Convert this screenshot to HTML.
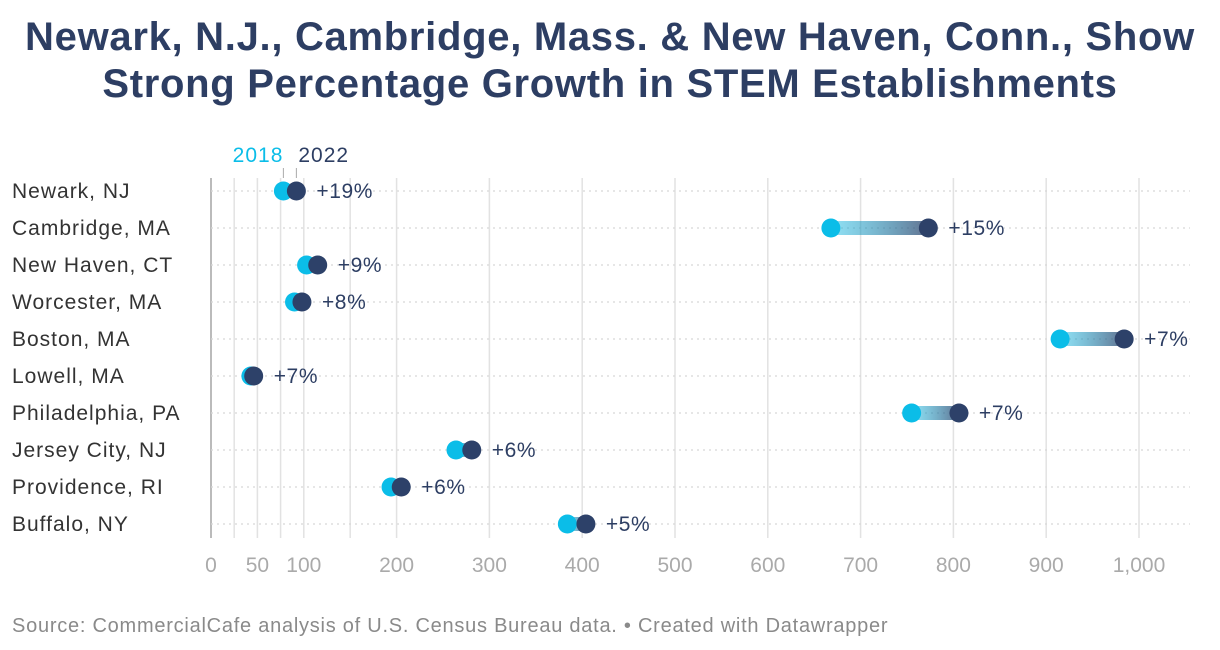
<!DOCTYPE html>
<html><head><meta charset="utf-8"><style>
body{margin:0;width:1220px;height:650px;background:#fff;font-family:"Liberation Sans",Roboto,sans-serif;overflow:hidden}
h1{margin:0;position:absolute;top:14px;left:0;width:1220px;text-align:center;font-size:40px;letter-spacing:0.7px;line-height:47px;color:#2d3e63;font-weight:bold}
.src{position:absolute;left:12px;top:615px;font-size:20px;letter-spacing:0.75px;color:#8a8a8a}
</style></head><body>
<h1>Newark, N.J., Cambridge, Mass. &amp; New Haven, Conn., Show<br>Strong Percentage Growth in STEM Establishments</h1>
<svg id="c" width="1220" height="650" style="position:absolute;left:0;top:0"></svg>
<div class="src">Source: CommercialCafe analysis of U.S. Census Bureau data. • Created with Datawrapper</div>
<script>
const cities=["Newark, NJ","Cambridge, MA","New Haven, CT","Worcester, MA","Boston, MA","Lowell, MA","Philadelphia, PA","Jersey City, NJ","Providence, RI","Buffalo, NY"];
const v2018=[78,668,103,90,915,43,755,264,194,384];
const v2022=[92,773,115,98,984,46,806,281,205,404];
const changes=["+19%","+15%","+9%","+8%","+7%","+7%","+7%","+6%","+6%","+5%"];
const gridVals=[0,25,50,75,100,150,200,300,400,500,600,700,800,900,1000];
const tickVals=[0,50,100,200,300,400,500,600,700,800,900,1000];
const tickLabels=["0","50","100","200","300","400","500","600","700","800","900","1,000"];
const svg=document.getElementById('c');const NS='http://www.w3.org/2000/svg';
const x=v=>211+v*0.928;const y=i=>191+i*37;
function mk(t,a,p){const e=document.createElementNS(NS,t);for(const k in a)e.setAttribute(k,a[k]);(p||svg).appendChild(e);return e;}
const defs=mk('defs',{});const g=mk('linearGradient',{id:'gr',x1:0,x2:1,y1:0,y2:0},defs);
mk('stop',{offset:0,'stop-color':'#0bbde8','stop-opacity':0.45},g);mk('stop',{offset:1,'stop-color':'#2d4169','stop-opacity':0.75},g);
gridVals.forEach(v=>{const l=mk('line',{x1:x(v),x2:x(v),y1:178,y2:538,stroke:v===0?'#bbb':'#e2e2e2','stroke-width':v===0?2:1.5});

});
tickVals.forEach((v,i)=>{const t=mk('text',{x:x(v),y:572,'text-anchor':'middle','font-size':21,fill:'#aaa'});t.textContent=tickLabels[i];

});
cities.forEach((c,i)=>{
const r=mk('line',{x1:211,x2:1190,y1:y(i),y2:y(i),stroke:'#d8d8d8','stroke-dasharray':'2,4','stroke-width':1.3});


const lab=mk('text',{x:12,y:y(i)+7,'font-size':21,'letter-spacing':1,fill:'#333'});lab.textContent=c;


const a=x(v2018[i]),b=x(v2022[i]);
if(b-a>4){const bar=mk('rect',{x:a,y:y(i)-7,width:b-a,height:14,fill:'url(#gr)'});

}
const d1=mk('circle',{cx:a,cy:y(i),r:9.5,fill:'#0bbde8'});


const d2=mk('circle',{cx:b,cy:y(i),r:9.5,fill:'#2d4169'});


const p=mk('text',{x:b+20,y:y(i)+7,'font-size':21,'letter-spacing':0.6,fill:'#2d3e63'});p.textContent=changes[i];


});
const a0=x(v2018[0]),b0=x(v2022[0]);
mk('line',{x1:a0,x2:a0,y1:168,y2:178,stroke:'#aaa'});mk('line',{x1:b0,x2:b0,y1:168,y2:178,stroke:'#aaa'});
const l1=mk('text',{x:a0,y:162,'text-anchor':'end','font-size':21,'letter-spacing':1,fill:'#0bbde8'});l1.textContent='2018';


const l2=mk('text',{x:b0+2,y:162,'font-size':21,'letter-spacing':1,fill:'#2d3e63'});l2.textContent='2022';


</script>
</body></html>
